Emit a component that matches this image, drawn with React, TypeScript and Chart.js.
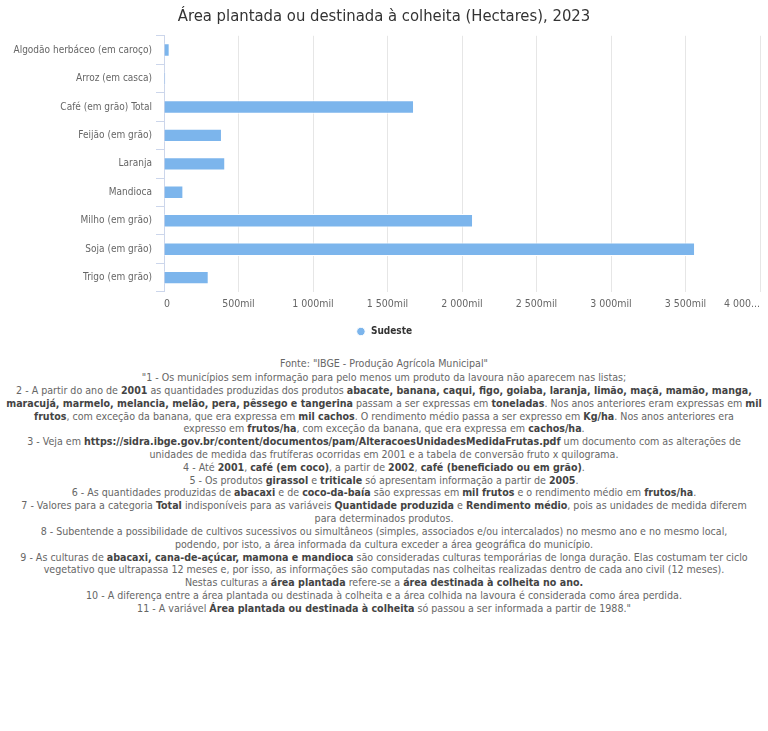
import React, { useEffect, useRef } from "react";
import { Chart, registerables } from "chart.js";

Chart.register(...registerables);

const TITLE = "Área plantada ou destinada à colheita (Hectares), 2023";
const categories = [
  "Algodão herbáceo (em caroço)",
  "Arroz (em casca)",
  "Café (em grão) Total",
  "Feijão (em grão)",
  "Laranja",
  "Mandioca",
  "Milho (em grão)",
  "Soja (em grão)",
  "Trigo (em grão)",
];
const seriesName = "Sudeste";
const sudeste = [38000, 11000, 1678000, 389000, 411000, 130000, 2074000, 3564000, 300000];
const xTickLabels = ["0", "500mil", "1 000mil", "1 500mil", "2 000mil", "2 500mil", "3 000mil", "3 500mil", "4 000..."];
const xMax = 4000000;
const xStep = 500000;

const FONT = '"Liberation Sans Narrow", "DejaVu Sans Condensed", "Liberation Sans", sans-serif';

type Seg = [string, boolean];
const B = (t: string): Seg => [t, true];
const N = (t: string): Seg => [t, false];

const footLines: Seg[][] = [
  [N('Fonte: "IBGE - Produção Agrícola Municipal"')],
  [N('"1 - Os municípios sem informação para pelo menos um produto da lavoura não aparecem nas listas;')],
  [N("2 - A partir do ano de "), B("2001"), N(" as quantidades produzidas dos produtos "), B("abacate, banana, caqui, figo, goiaba, laranja, limão, maçã, mamão, manga,")],
  [B("maracujá, marmelo, melancia, melão, pera, pêssego e tangerina"), N(" passam a ser expressas em "), B("toneladas"), N(". Nos anos anteriores eram expressas em "), B("mil")],
  [B("frutos"), N(", com exceção da banana, que era expressa em "), B("mil cachos"), N(". O rendimento médio passa a ser expresso em "), B("Kg/ha"), N(". Nos anos anteriores era")],
  [N("expresso em "), B("frutos/ha"), N(", com exceção da banana, que era expressa em "), B("cachos/ha"), N(".")],
  [N("3 - Veja em "), B("https://sidra.ibge.gov.br/content/documentos/pam/AlteracoesUnidadesMedidaFrutas.pdf"), N(" um documento com as alterações de")],
  [N("unidades de medida das frutíferas ocorridas em 2001 e a tabela de conversão fruto x quilograma.")],
  [N("4 - Até "), B("2001"), N(", "), B("café (em coco)"), N(", a partir de "), B("2002"), N(", "), B("café (beneficiado ou em grão)"), N(".")],
  [N("5 - Os produtos "), B("girassol"), N(" e "), B("triticale"), N(" só apresentam informação a partir de "), B("2005"), N(".")],
  [N("6 - As quantidades produzidas de "), B("abacaxi"), N(" e de "), B("coco-da-baía"), N(" são expressas em "), B("mil frutos"), N(" e o rendimento médio em "), B("frutos/ha"), N(".")],
  [N("7 - Valores para a categoria "), B("Total"), N(" indisponíveis para as variáveis "), B("Quantidade produzida"), N(" e "), B("Rendimento médio"), N(", pois as unidades de medida diferem")],
  [N("para determinados produtos.")],
  [N("8 - Subentende a possibilidade de cultivos sucessivos ou simultâneos (simples, associados e/ou intercalados) no mesmo ano e no mesmo local,")],
  [N("podendo, por isto, a área informada da cultura exceder a área geográfica do município.")],
  [N("9 - As culturas de "), B("abacaxi, cana-de-açúcar, mamona e mandioca"), N(" são consideradas culturas temporárias de longa duração. Elas costumam ter ciclo")],
  [N("vegetativo que ultrapassa 12 meses e, por isso, as informações são computadas nas colheitas realizadas dentro de cada ano civil (12 meses).")],
  [N("Nestas culturas a "), B("área plantada"), N(" refere-se a "), B("área destinada à colheita no ano.")],
  [N("10 - A diferença entre a área plantada ou destinada à colheita e a área colhida na lavoura é considerada como área perdida.")],
  [N("11 - A variável "), B("Área plantada ou destinada à colheita"), N(' só passou a ser informada a partir de 1988."')],
];

export default function App() {
  const ref = useRef<HTMLCanvasElement | null>(null);

  useEffect(() => {
    if (!ref.current) return;
    const chart = new Chart(ref.current, {
      type: "bar",
      data: {
        labels: categories,
        datasets: [
          {
            label: seriesName,
            data: sudeste,
            backgroundColor: "#7cb5ec",
            borderColor: "#ffffff",
            borderWidth: 1,
            categoryPercentage: 1,
            barPercentage: 0.47,
          },
        ],
      },
      options: {
        indexAxis: "y",
        animation: false,
        responsive: true,
        maintainAspectRatio: false,
        layout: { padding: { left: 0, right: 0, top: 0, bottom: 3.5 } },
        plugins: {
          title: {
            display: true,
            text: TITLE,
            color: "#333333",
            font: { family: FONT, size: 16.5, weight: "normal" },
            padding: { top: 7, bottom: 9 },
          },
          legend: {
            display: true,
            position: "bottom",
            labels: {
              usePointStyle: true,
              pointStyle: "circle",
              boxWidth: 10,
              boxHeight: 6,
              color: "#333333",
              font: { family: FONT, size: 10, weight: "bold" },
              padding: 1,
            },
          },
          tooltip: { enabled: false },
        },
        scales: {
          x: {
            type: "linear",
            position: "bottom",
            min: 0,
            max: xMax,
            grid: { color: "#e6e6e6", drawTicks: false, lineWidth: 1 },
            border: { display: false },
            ticks: {
              stepSize: xStep,
              align: "inner",
              maxRotation: 0,
              autoSkip: false,
              color: "#666666",
              font: { family: FONT, size: 10.5 },
              padding: 6,
              callback: (_v: any, i: number) => xTickLabels[i],
            },
            afterFit: (s: any) => {
              s.height = s.height + 9;
              s.paddingRight = 8;
            },
          },
          y: {
            type: "category",
            grid: {
              drawOnChartArea: false,
              drawTicks: true,
              tickLength: 8,
              color: "#ccd6eb",
              offset: true,
            },
            border: { display: true, color: "#ccd6eb" },
            ticks: {
              color: "#666666",
              font: { family: FONT, size: 10 },
              padding: 4,
              autoSkip: false,
            },
            afterFit: (s: any) => {
              s.width = 164;
            },
          },
        },
      },
    } as any);
    return () => chart.destroy();
  }, []);

  return (
    <div style={{ position: "absolute", left: 0, top: 0, width: 768, height: 731, background: "#fff" }}>
      <div style={{ position: "absolute", left: 0, top: 0, width: 768, height: 350 }}>
        <canvas ref={ref} />
      </div>
      <div
        style={{
          position: "absolute",
          left: 0,
          top: 357,
          width: 768,
          textAlign: "center",
          fontFamily: FONT,
          fontSize: 10.6,
          color: "#666666",
          lineHeight: "12.83px",
        }}
      >
        {footLines.map((line, i) => (
          <div key={i} style={{ whiteSpace: "nowrap", marginBottom: i === 0 ? 1.2 : 0 }}>
            {line.map((seg, j) =>
              seg[1] ? (
                <b key={j} style={{ color: "#444444" }}>
                  {seg[0]}
                </b>
              ) : (
                <span key={j}>{seg[0]}</span>
              )
            )}
          </div>
        ))}
      </div>
    </div>
  );
}
